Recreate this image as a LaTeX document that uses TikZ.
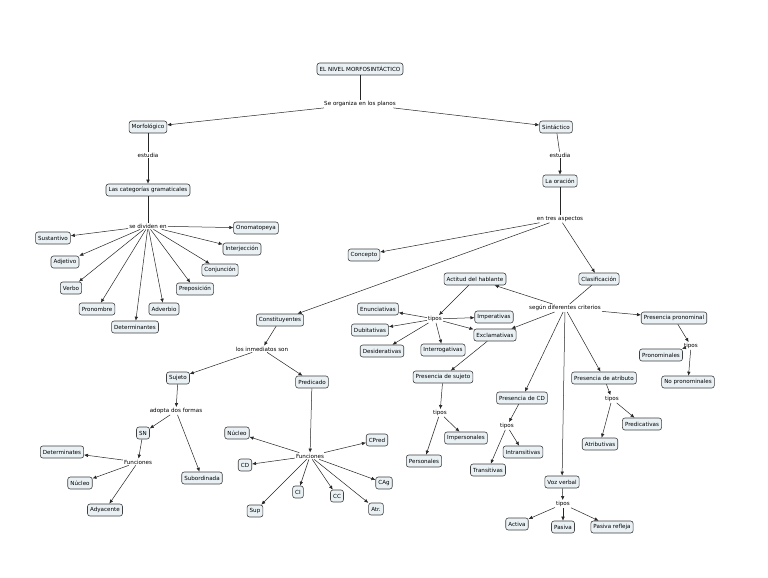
\documentclass[tikz,border=0pt]{standalone}
\usepackage{fontspec}
\setmainfont{DejaVu Sans}
\usetikzlibrary{arrows.meta}
\definecolor{bx}{HTML}{EAF1F5}
\begin{document}
\begin{tikzpicture}[x=1pt,y=-1pt,
 c/.style={draw=black!75,fill=bx,rounded corners=2.5pt,font=\fontsize{5.6}{6.5}\selectfont,inner sep=2.6pt,minimum height=12pt,line width=0.6pt},
 l/.style={font=\fontsize{5.6}{6.5}\selectfont,inner sep=1pt,fill=white},
 a/.style={-{Latex[length=4pt,width=3.5pt]},black!85,line width=0.5pt},
 p/.style={black!85,line width=0.5pt}]
\useasboundingbox[fill=white] (0,0) rectangle (768,578);
\node[c] (top) at (360,69) {EL NIVEL MORFOSINTÁCTICO};
\node[l] (org) at (360,104) {Se organiza en los planos};
\node[c] (mor) at (148,127) {Morfológico};
\node[c] (sin) at (556,127) {Sintáctico};
\node[l] (est1) at (148,155) {estudia};
\node[c] (cat) at (148,190) {Las categorías gramaticales};
\node[l] (div) at (148,226) {se dividen en};
\node[c] (sus) at (53,238) {Sustantivo};
\node[c] (ono) at (256,228) {Onomatopeya};
\node[c] (adj) at (65,262) {Adjetivo};
\node[c] (int) at (242,249) {Interjección};
\node[c] (ver) at (71,288) {Verbo};
\node[c] (con) at (220,270) {Conjunción};
\node[c] (pre) at (195,289) {Preposición};
\node[c] (pro) at (97,309) {Pronombre};
\node[c] (adv) at (164,309) {Adverbio};
\node[c] (det) at (135,327) {Determinantes};
\node[l] (est2) at (560,155) {estudia};
\node[c] (ora) at (560,181) {La oración};
\node[l] (tres) at (560,219) {en tres aspectos};
\node[c] (cpt) at (364,255) {Concepto};
\node[c] (cla) at (599,279) {Clasificación};
\node[c] (cons) at (280,320) {Constituyentes};
\node[c] (act) at (475,279) {Actitud del hablante};
\node[l] (seg) at (565,308) {según diferentes criterios};
\node[c] (ppr) at (674,318) {Presencia pronominal};
\node[l] (tpr) at (691,346) {tipos};
\node[c] (prn) at (661,355) {Pronominales};
\node[c] (npr) at (688,382) {No pronominales};
\node[l] (tac) at (435,319) {tipos};
\node[c] (enu) at (378,309) {Enunciativas};
\node[c] (dub) at (370,330) {Dubitativas};
\node[c] (imp) at (494,317) {Imperativas};
\node[c] (exc) at (495,335) {Exclamativas};
\node[c] (des) at (382,351) {Desiderativas};
\node[c] (itg) at (443,350) {Interrogativas};
\node[c] (psu) at (443,377) {Presencia de sujeto};
\node[c] (pcd) at (522,398) {Presencia de CD};
\node[c] (pat) at (604,378) {Presencia de atributo};
\node[l] (tsu) at (440,413) {tipos};
\node[l] (tcd) at (507,426) {tipos};
\node[l] (tat) at (612,399) {tipos};
\node[c] (ims) at (466,438) {Impersonales};
\node[c] (per) at (424,461) {Personales};
\node[c] (itr) at (523,452) {Intransitivas};
\node[c] (tra) at (488,470) {Transitivas};
\node[c] (prd) at (642,424) {Predicativas};
\node[c] (atb) at (600,444) {Atributivas};
\node[c] (voz) at (562,482) {Voz verbal};
\node[l] (tvo) at (563,504) {tipos};
\node[c] (act2) at (517,524) {Activa};
\node[c] (pas) at (563,527) {Pasiva};
\node[c] (pre2) at (612,527) {Pasiva refleja};
\node[l] (inm) at (262,349) {los inmediatos son};
\node[c] (suj) at (178,378) {Sujeto};
\node[c] (pdo) at (312,382) {Predicado};
\node[l] (ado) at (176,411) {adopta dos formas};
\node[c] (sn) at (143,433) {SN};
\node[l] (fun1) at (138,462) {Funciones};
\node[c] (dt2) at (62,452) {Determinates};
\node[c] (nu1) at (80,483) {Núcleo};
\node[c] (ady) at (105,510) {Adyacente};
\node[c] (sub) at (202,478) {Subordinada};
\node[l] (fun2) at (310,456) {Funciones};
\node[c] (nu2) at (237,433) {Núcleo};
\node[c] (cd) at (245,465) {CD};
\node[c] (cpr) at (377,440) {CPred};
\node[c] (ci) at (298,492) {CI};
\node[c] (cc) at (337,496) {CC};
\node[c] (cag) at (384,483) {CAg};
\node[c] (sup) at (255,511) {Sup};
\node[c] (atr) at (376,509) {Atr.};
\draw[p] (top)--(org); \draw[a] (org)--(mor); \draw[a] (org)--(sin);
\draw[p] (mor)--(est1); \draw[a] (est1)--(cat);
\draw[p] (cat)--(div);
\foreach \t in {sus,ono,adj,int,ver,con,pre,pro,adv,det} \draw[a] (div)--(\t);
\draw[p] (sin)--(est2); \draw[a] (est2)--(ora); \draw[p] (ora)--(tres);
\foreach \t in {cpt,cla,cons} \draw[a] (tres)--(\t);
\draw[p] (cla)--(seg);
\foreach \t in {act,ppr,exc,pcd,pat,voz} \draw[a] (seg)--(\t);
\draw[a] (exc)--(psu);
\draw[a] (act)--(tac);
\foreach \t in {enu,dub,imp,exc,des,itg} \draw[a] (tac)--(\t);
\draw[a] (ppr)--(tpr); \draw[a] (tpr)--(prn); \draw[a] (tpr)--(npr);
\draw[a] (psu)--(tsu); \draw[a] (tsu)--(ims); \draw[a] (tsu)--(per);
\draw[a] (pcd)--(tcd); \draw[a] (tcd)--(itr); \draw[a] (tcd)--(tra);
\draw[a] (pat)--(tat); \draw[a] (tat)--(prd); \draw[a] (tat)--(atb);
\draw[a] (voz)--(tvo); \foreach \t in {act2,pas,pre2} \draw[a] (tvo)--(\t);
\draw[a] (cons)--(inm); \draw[a] (inm)--(suj); \draw[a] (inm)--(pdo);
\draw[a] (suj)--(ado); \draw[a] (ado)--(sn); \draw[a] (ado)--(sub);
\draw[a] (sn)--(fun1); \foreach \t in {dt2,nu1,ady} \draw[a] (fun1)--(\t);
\draw[a] (pdo)--(fun2);
\foreach \t in {nu2,cd,cpr,ci,cc,cag,sup,atr} \draw[a] (fun2)--(\t);
\end{tikzpicture}
\end{document}
